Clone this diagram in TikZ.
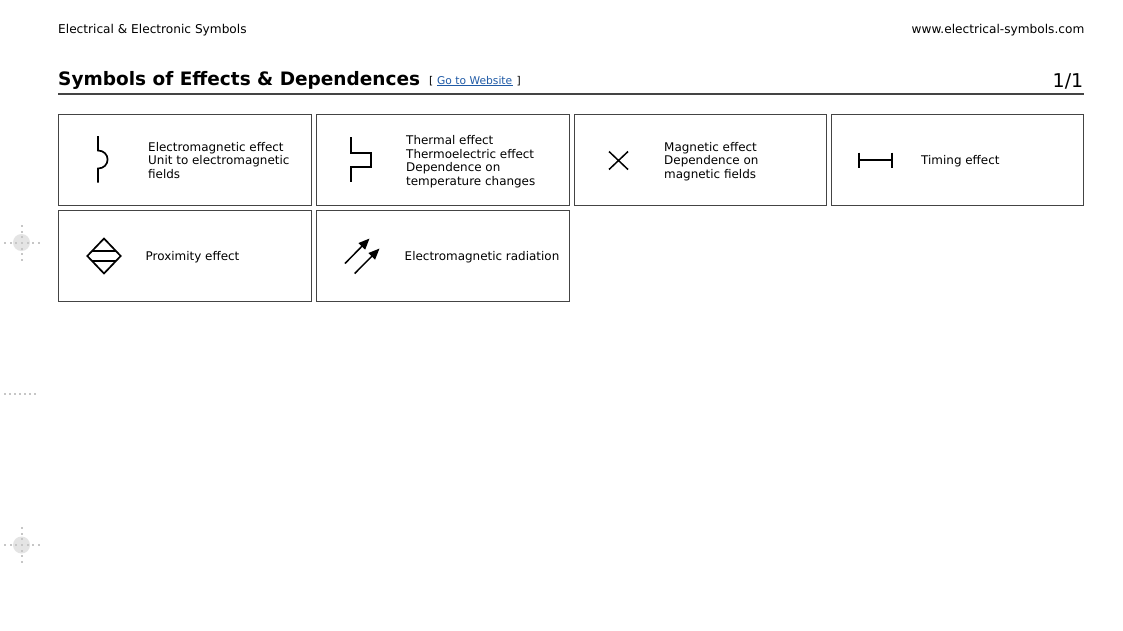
\documentclass[tikz,border=0pt]{standalone}
\usepackage{fontspec}
\setmainfont{DejaVu Sans}
\usetikzlibrary{arrows.meta}
\definecolor{boxline}{HTML}{444444}
\definecolor{linkblue}{HTML}{1F5AA6}
\definecolor{markgray}{HTML}{C6C6C6}
\definecolor{markdisc}{HTML}{E4E4E4}
\tikzset{
  cellbox/.style={draw=boxline,line width=0.9pt,fill=white,anchor=north west,minimum width=253pt,minimum height=91pt,inner sep=0pt,outer sep=0pt},
  celltext/.style={anchor=west,align=left,inner sep=0pt,font=\fontsize{11.95}{13.5}\selectfont},
  headtext/.style={inner sep=0pt,font=\fontsize{12.15}{14}\selectfont},
  linktext/.style={anchor=base west,inner sep=0pt,font=\fontsize{10.7}{13}\selectfont},
  symb/.style={line width=1.7pt,black},
  thinsymb/.style={line width=1.5pt,black},
  arrowsymb/.style={line width=1.5pt,black,-{Triangle[length=11pt,width=9pt]}}
}
\newcommand{\regmark}[2]{%
  \fill[markdisc] (#1,#2) circle (8.5);
  \foreach \d in {-17,-11,-6,0,6,11,17}{
    \fill[markgray] (#1+\d-1,#2-1) rectangle +(2,2);
    \fill[markgray] (#1-1,#2+\d-1) rectangle +(2,2);
  }%
}
\begin{document}
\begin{tikzpicture}[x=1pt,y=-1pt]
\useasboundingbox (0,0) rectangle (1123,630);
\fill[white] (0,0) rectangle (1123,630);
% registration marks
\regmark{21.5}{242.5}
\regmark{21.5}{545}
\foreach \x in {4.5,9.8,14.8,20,25,30,35}{
  \fill[markgray] (\x-1,392.5) rectangle +(2,2);
}
% header
\node[headtext,anchor=base west] (head) at (58,33) {Electrical \& Electronic Symbols};
\node[headtext,anchor=base east] (site) at (1084.5,33) {www.electrical-symbols.com};
\node[anchor=base west,inner sep=0pt,font=\fontsize{18.5}{22}\selectfont\bfseries] (title) at (58,85.7) {Symbols of Effects \& Dependences};
\node[linktext] (lb) at (429,84) {[};
\node[linktext,text=linkblue] (link) at (437,84) {Go to Website};
\node[linktext] (rb) at (516.5,84) {]};
\draw[linkblue,line width=0.8pt] (link.base west)+(0,1.7) -- ++(75.5,1.7);
\node[anchor=base east,inner sep=0pt,font=\fontsize{19}{21}\selectfont] (page) at (1083.5,87) {1/1};
\draw[boxline,line width=1.5pt] (58,94) -- (1084,94);
% boxes
\node[cellbox] (b1) at (58.5,114.5) {};
\node[cellbox] (b2) at (316.5,114.5) {};
\node[cellbox,minimum width=252.4pt] (b3) at (574.4,114.5) {};
\node[cellbox,minimum width=252.6pt] (b4) at (831,114.5) {};
\node[cellbox] (b5) at (58.5,210.5) {};
\node[cellbox] (b6) at (316.5,210.5) {};
% texts
\node[celltext] (t1) at (148,160.1) {Electromagnetic effect\\Unit to electromagnetic\\fields};
\node[celltext] (t2) at (406,161.7) {Thermal effect\\Thermoelectric effect\\Dependence on\\temperature changes};
\node[celltext] (t3) at (664,161.2) {Magnetic effect\\Dependence on\\magnetic fields};
\node[celltext] (t4) at (921,161.5) {Timing effect};
\node[celltext] (t5) at (145.5,257.5) {Proximity effect};
\node[celltext] (t6) at (404.5,257.5) {Electromagnetic radiation};
% symbol 1
\draw[symb] (98,136) -- (98,150.5) .. controls (103.6,150.5) and (107.6,154.5) .. (107.6,159.5) .. controls (107.6,164.5) and (103.6,168.5) .. (98,168.5) -- (98,182.5);
% symbol 2
\draw[symb] (350.7,137) -- (350.7,152.7) -- (371,152.7) -- (371,166.7) -- (350.7,166.7) -- (350.7,181.5);
% symbol 3
\draw[thinsymb] (609,151.5) -- (628,169.5);
\draw[thinsymb] (628,151.5) -- (609,169.5);
% symbol 4
\draw[symb] (858.7,152.5) -- (858.7,167.8);
\draw[symb] (892.2,152.5) -- (892.2,167.8);
\draw[symb] (858.7,160) -- (892.2,160);
% symbol 5
\draw[symb,line join=miter] (104,238.5) -- (120.7,256) -- (104,273.5) -- (87.3,256) -- cycle;
\draw[symb] (92.2,250.9) -- (115.8,250.9);
\draw[symb] (92.2,260.9) -- (115.8,260.9);
% symbol 6
\draw[arrowsymb] (345,263.5) -- (369.5,238.5);
\draw[arrowsymb] (354.7,273.5) -- (379.5,248.5);
\end{tikzpicture}
\end{document}
